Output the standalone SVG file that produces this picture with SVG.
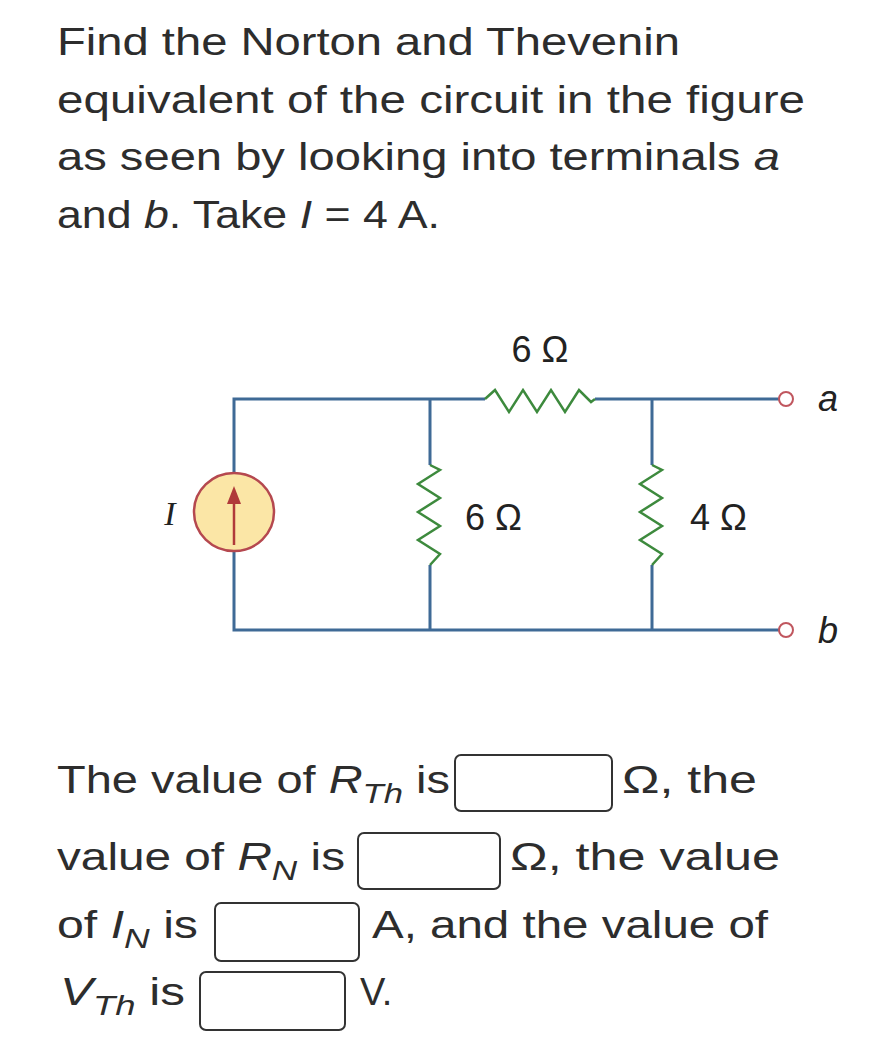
<svg xmlns="http://www.w3.org/2000/svg" width="880" height="1056" viewBox="0 0 880 1056">
<style>
.t{font-family:"Liberation Sans",Arial,sans-serif;font-size:38px;fill:#2d2d2d}
.s{font-size:28px}
.w{fill:none;stroke:#3f6a96;stroke-width:3}
.r{fill:none;stroke:#3d8a3d;stroke-width:2.5}
.l{font-family:"Liberation Sans",Arial,sans-serif;font-size:36px;fill:#222}
.box{fill:#fff;stroke:#333;stroke-width:2}
</style>
<rect width="880" height="1056" fill="#fff"/>
<g id="question">
<text class="t" x="57" y="55" textLength="623" lengthAdjust="spacingAndGlyphs">Find the Norton and Thevenin</text>
<text class="t" x="57" y="113" textLength="748" lengthAdjust="spacingAndGlyphs">equivalent of the circuit in the figure</text>
<text class="t" x="57" y="170" textLength="723" lengthAdjust="spacingAndGlyphs">as seen by looking into terminals <tspan font-style="italic">a</tspan></text>
<text class="t" x="57" y="228" textLength="383" lengthAdjust="spacingAndGlyphs">and <tspan font-style="italic">b</tspan>. Take <tspan font-style="italic">I</tspan> = 4 A.</text>
</g>
<g id="connectors">
<path class="w" d="M234,473 V399 H485 M595,399 H779 M430,399 V465 M430,565 V630 M652,399 V465 M652,565 V630 M234,551 V630 H779"/>
</g>
<g id="R1"><path class="r" d="M485,399 L495,390 L509,412 L523,390 L537,412 L551,390 L565,412 L579,390 L591,402 L595,399"/>
<text class="l" x="540" y="362" text-anchor="middle">6 Ω</text></g>
<g id="R2"><path class="r" d="M430,465 L440,470 L418,484 L440,498 L418,512 L440,526 L418,540 L440,554 L430,565"/>
<text class="l" x="465" y="530">6 Ω</text></g>
<g id="R3"><path class="r" d="M652,465 L662,470 L640,484 L662,498 L640,512 L662,526 L640,540 L662,554 L652,565"/>
<text class="l" x="690" y="530">4 Ω</text></g>
<g id="source"><ellipse cx="234" cy="512" rx="40" ry="39" fill="#fbe6a6" stroke="#b5484f" stroke-width="2.5"/>
<path d="M234,545 V500" stroke="#b03a3a" stroke-width="2.5"/><path d="M234,486 L227,504 H241 Z" fill="#b03a3a"/>
<text x="170" y="525" font-family="Liberation Serif,serif" font-size="34" font-style="italic" fill="#222" text-anchor="middle">I</text></g>
<g id="terminal-a"><circle cx="786" cy="399" r="7" fill="#fff" stroke="#c0565e" stroke-width="2"/><text class="l" x="818" y="411" font-style="italic">a</text></g>
<g id="terminal-b"><circle cx="786" cy="630" r="7" fill="#fff" stroke="#c0565e" stroke-width="2"/><text class="l" x="818" y="643" font-style="italic">b</text></g>
<g id="answers">
<text class="t" x="57" y="793" textLength="393" lengthAdjust="spacingAndGlyphs">The value of <tspan font-style="italic">R</tspan><tspan class="s" font-style="italic" dy="10">Th</tspan><tspan dy="-10"> is</tspan></text>
<rect class="box" x="455" y="755" width="157" height="56" rx="6"/>
<text class="t" x="622" y="793" textLength="135" lengthAdjust="spacingAndGlyphs">Ω, the</text>
<text class="t" x="57" y="870" textLength="288" lengthAdjust="spacingAndGlyphs">value of <tspan font-style="italic">R</tspan><tspan class="s" font-style="italic" dy="10">N</tspan><tspan dy="-10"> is</tspan></text>
<rect class="box" x="358" y="833" width="142" height="56" rx="6"/>
<text class="t" x="510" y="870" textLength="270" lengthAdjust="spacingAndGlyphs">Ω, the value</text>
<text class="t" x="57" y="938" textLength="141" lengthAdjust="spacingAndGlyphs">of <tspan font-style="italic">I</tspan><tspan class="s" font-style="italic" dy="10">N</tspan><tspan dy="-10"> is</tspan></text>
<rect class="box" x="215" y="903" width="144" height="58" rx="6"/>
<text class="t" x="372" y="938" textLength="396" lengthAdjust="spacingAndGlyphs">A, and the value of</text>
<text class="t" x="60" y="1005" textLength="125" lengthAdjust="spacingAndGlyphs"><tspan font-style="italic">V</tspan><tspan class="s" font-style="italic" dy="10">Th</tspan><tspan dy="-10"> is</tspan></text>
<rect class="box" x="200" y="972" width="145" height="58" rx="6"/>
<text class="t" x="360" y="1005">V.</text>
</g>
</svg>
